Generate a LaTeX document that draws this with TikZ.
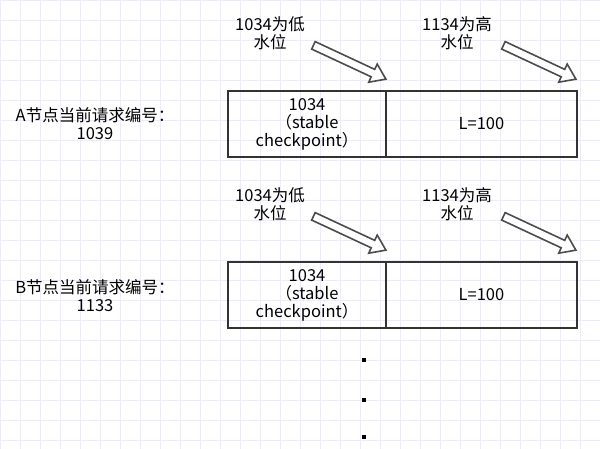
\documentclass[tikz,border=0pt]{standalone}
\usepackage{fontspec}
\setmainfont{Liberation Sans}
\newfontfamily\cjk{Noto Sans CJK SC}
\usetikzlibrary{shapes.arrows}
\begin{document}
\begin{tikzpicture}[x=1pt,y=-1pt,
  txt/.style={font=\fontsize{16.5}{18}\selectfont\cjk, align=center, inner sep=0},
  box/.style={draw=black!80, line width=1.8pt, minimum height=66pt, inner sep=0},
  harrow/.style={single arrow, draw=black!70, fill=white, line width=1.6pt, minimum height=80pt, minimum width=20pt, single arrow head extend=4pt, single arrow tip angle=70, inner sep=2pt, rotate=-25}]
\useasboundingbox (0,0) rectangle (600,449);
\fill[white] (0,0) rectangle (600,449);
\draw[step=20pt, blue!8, line width=0.5pt] (0,0) grid (600,449);
% A
\node[txt] (la) at (95,124) {A节点当前请求编号：\\1039};
\node[box, minimum width=158pt] (a1) at (307,124) {};
\node[box, minimum width=191pt] (a2) at (481.5,124) {};
\node[txt] (a1t) at (a1) {1034\\（stable\\checkpoint）};
\node[txt] (a2t) at (a2) {L=100};
\node[txt] (lowA) at (270,33) {1034为低\\水位};
\node[txt] (highA) at (457,33) {1134为高\\水位};
\node[harrow] (arA1) at (347,61) {};
\node[harrow] (arA2) at (537,61) {};
% B
\node[txt] (lb) at (95,296) {B节点当前请求编号：\\1133};
\node[box, minimum width=158pt] (b1) at (307,295) {};
\node[box, minimum width=191pt] (b2) at (481.5,295) {};
\node[txt] (b1t) at (b1) {1034\\（stable\\checkpoint）};
\node[txt] (b2t) at (b2) {L=100};
\node[txt] (lowB) at (270,204) {1034为低\\水位};
\node[txt] (highB) at (457,204) {1134为高\\水位};
\node[harrow] (arB1) at (347,232) {};
\node[harrow] (arB2) at (537,232) {};
% dots
\foreach \y/\n in {360/d1,400/d2,437/d3} \node[fill=black, inner sep=0, minimum size=3.5pt] (\n) at (364,\y) {};
\end{tikzpicture}
\end{document}
